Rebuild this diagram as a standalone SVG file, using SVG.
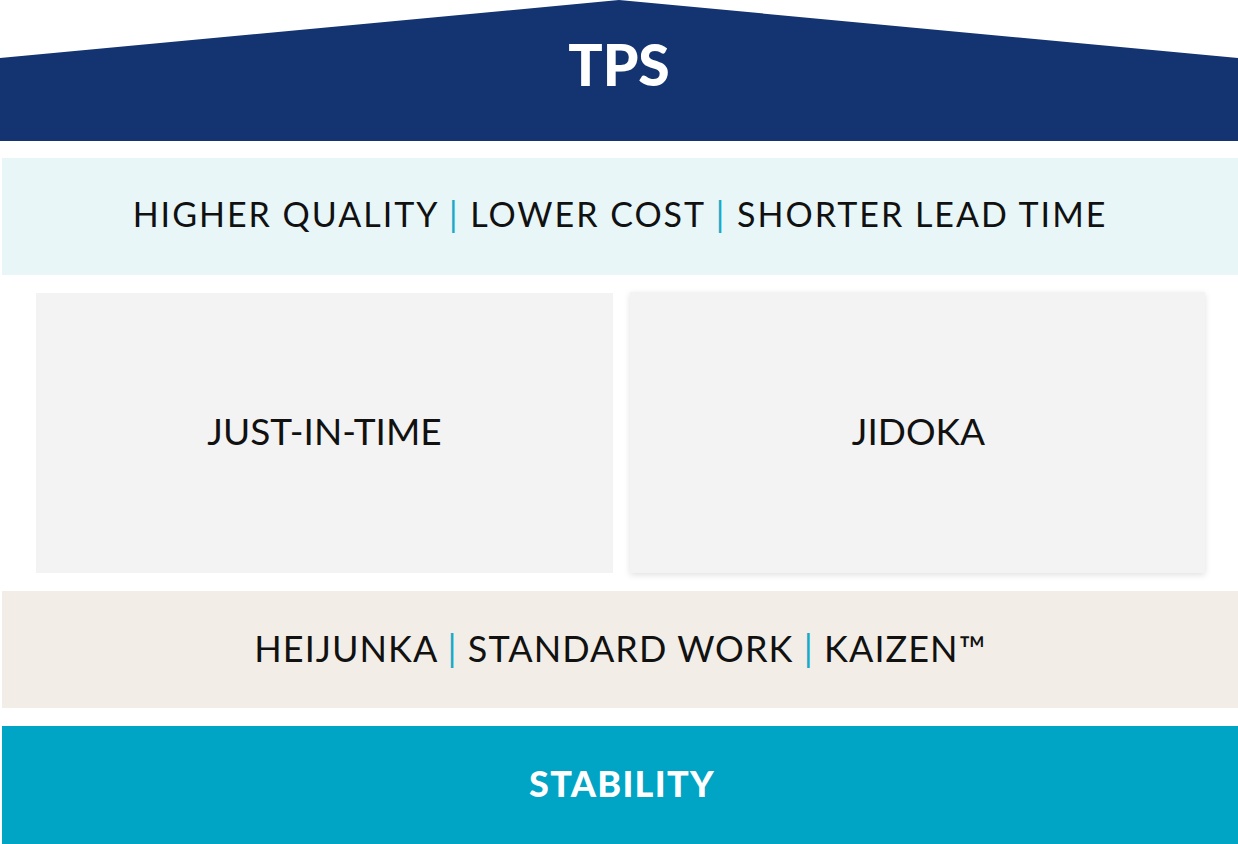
<svg xmlns="http://www.w3.org/2000/svg" width="1238" height="844" viewBox="0 0 1238 844">
<style>
.t{font-family:Lato,"Noto Sans","Liberation Sans",sans-serif;font-weight:400;fill:#111;text-anchor:middle}
.b{font-family:Lato,"Noto Sans","Liberation Sans",sans-serif;font-weight:900;fill:#fff;text-anchor:middle}
.sep{fill:#1aa9c8}
</style>
<defs>
<filter id="sh" x="-5%" y="-5%" width="110%" height="115%">
<feDropShadow dx="0" dy="2" stdDeviation="3" flood-color="#000" flood-opacity="0.12"/>
</filter>
</defs>
<g id="roof">
<polygon points="0,58 619,0 1238,58 1238,141 0,141" fill="#143371"/>
<text class="b" x="619" y="86" font-size="57">TPS</text>
</g>
<g id="goals">
<rect x="2" y="158" width="1236" height="117" fill="#e8f6f8"/>
<text class="t" x="620" y="227" font-size="34" letter-spacing="2">HIGHER QUALITY <tspan class="sep">|</tspan> LOWER COST <tspan class="sep">|</tspan> SHORTER LEAD TIME</text>
</g>
<g id="jit">
<rect x="36" y="293" width="577" height="280" fill="#f3f3f3"/>
<text class="t" x="324.5" y="445" font-size="37">JUST-IN-TIME</text>
</g>
<g id="jidoka">
<rect x="630" y="292" width="575" height="281" fill="#f3f3f3" filter="url(#sh)"/>
<text class="t" x="918.5" y="445" font-size="37">JIDOKA</text>
</g>
<g id="foundation">
<rect x="2" y="591" width="1236" height="117" fill="#f2eee7"/>
<text class="t" x="620.5" y="662" font-size="36" letter-spacing="1.05">HEIJUNKA <tspan class="sep">|</tspan> STANDARD WORK <tspan class="sep">|</tspan> KAIZEN™</text>
</g>
<g id="stability">
<rect x="2" y="726" width="1236" height="118" fill="#00a4c4"/>
<text class="b" x="622" y="797" font-size="36" letter-spacing="1.3">STABILITY</text>
</g>
<g id="connectors"/>
</svg>
